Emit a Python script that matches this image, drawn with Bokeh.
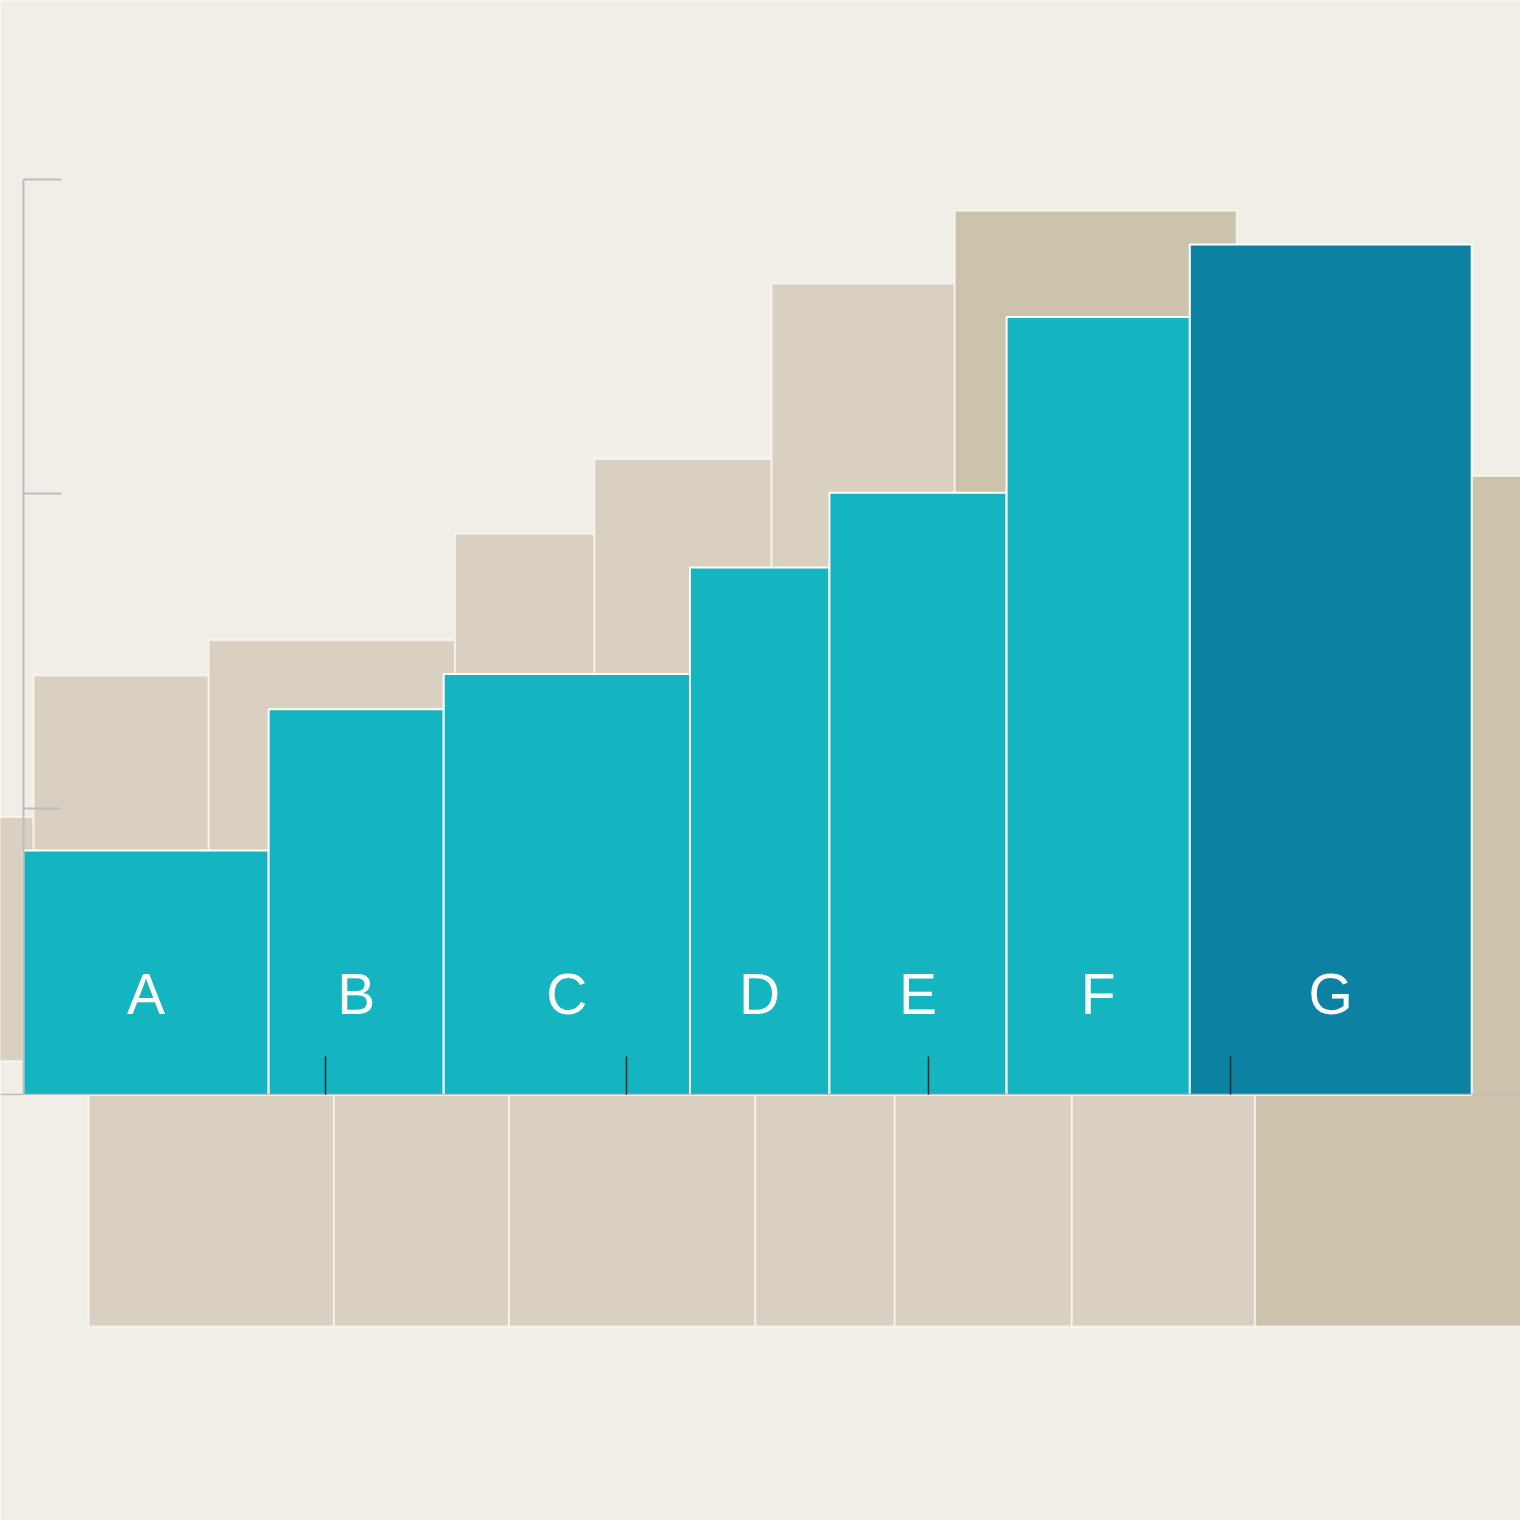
#Variable width bar chart with two offset "shadow" copies behind it

#Import required packages

import numpy as np
from bokeh.plotting import figure
from bokeh.models import FixedTicker
from bokeh.core.properties import value
from bokeh.embed import file_html
from bokeh.resources import INLINE

#Data

categories = ["A", "B", "C", "D", "E", "F", "G"]
widths = [0.813, 0.580, 0.816, 0.462, 0.587, 0.607, 0.934]
heights = [7.78, 12.28, 13.40, 16.79, 19.17, 24.76, 27.07]
x_ticks = [1, 2, 3, 4]
y_ticks = [9.13, 19.15, 29.13]

#Colours

bar_colors = ["#14B4C0"] * 6 + ["#0C81A2"]
shadow_colors = ["#D9D0C1"] * 6 + ["#CDC2AC"]
bg = "#F1EEE8"

#Bar edges from the widths

right = np.cumsum(widths)
left = right - np.array(widths)
top = np.array(heights)
centers = (left + right) / 2

#Create the plot

p = figure(width=1520, height=1520, x_range=(-0.0754, 4.9607), y_range=(-13.543, 34.835),
           output_backend="svg", toolbar_location=None, min_border=0,
           background_fill_color=bg, border_fill_color=bg, outline_line_color=None)
p.grid.visible = False

#Shadow copies: one pushed down-right, one pushed up-left

p.quad(left=left + 0.2164, right=right + 0.2164, bottom=-7.37, top=top - 7.37,
       fill_color=shadow_colors, line_color="white", line_alpha=0.6, line_width=2)
p.quad(left=left - 0.7787, right=right - 0.7787, bottom=1.07, top=top + 1.07,
       fill_color=shadow_colors, line_color="white", line_alpha=0.6, line_width=2)

#Main bars

p.quad(left=left, right=right, bottom=0, top=top,
       fill_color=bar_colors, line_color="white", line_width=2)

p.text(x=centers, y=3.2, text=categories, text_align="center", text_baseline="alphabetic",
       text_font=value("Liberation Sans"), text_font_size="57px", text_color="white")

#Axes sit inside the frame

p.xaxis.fixed_location = 0
p.xaxis.ticker = FixedTicker(ticks=x_ticks)
p.xaxis.major_label_overrides = {t: "" for t in x_ticks}
p.xaxis.major_tick_in = 38
p.xaxis.major_tick_out = 0
p.xaxis.major_tick_line_color = "#1B2B30"
p.xaxis.major_tick_line_width = 1.5
p.xaxis.minor_tick_line_color = None
p.xaxis.axis_line_color = "#BDBDBD"
p.xaxis.axis_line_width = 1.5

p.yaxis.fixed_location = 0
p.yaxis.ticker = FixedTicker(ticks=y_ticks)
p.yaxis.major_label_overrides = {t: "" for t in y_ticks}
p.yaxis.bounds = (0, y_ticks[-1])
p.yaxis.major_tick_in = 38
p.yaxis.major_tick_out = 0
p.yaxis.major_tick_line_color = "#BDBDBD"
p.yaxis.major_tick_line_width = 2
p.yaxis.minor_tick_line_color = None
p.yaxis.axis_line_color = "#BDBDBD"
p.yaxis.axis_line_width = 2

#Output the plot

open("out.html", "w").write(file_html(p, INLINE))
